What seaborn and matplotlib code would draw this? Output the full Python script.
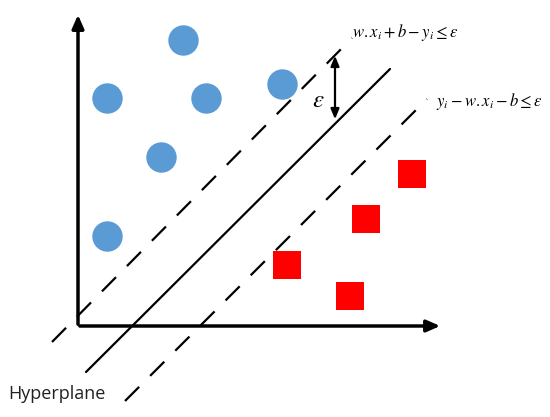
import matplotlib
matplotlib.use("Agg")
import matplotlib.pyplot as plt
import seaborn as sns
import pandas as pd

circle_x = [183, 107, 206, 282, 161, 107]
circle_y = [40, 98, 98, 84, 157, 236]
square_x = [412, 366, 287, 350]
square_y = [174, 219, 265, 296]
# lines: (x_start, y_start, x_end, y_end) in picture coords
solid_line = [86, 372, 390, 69]
upper_dash = [52, 342, 352, 38]
lower_dash = [125, 401, 427, 99]

sns.set_style("white")
plt.rcParams["mathtext.fontset"] = "stix"
fig = plt.figure(figsize=(5.5, 4.17), dpi=100)
ax = fig.add_axes([0, 0, 1, 1])
ax.set_xlim(0, 550)
ax.set_ylim(417, 0)
ax.axis("off")

circ = pd.DataFrame({"x": circle_x, "y": circle_y})
sq = pd.DataFrame({"x": square_x, "y": square_y})
sns.scatterplot(data=circ, x="x", y="y", s=480, color="#5B9BD5", linewidth=0, ax=ax)
sns.scatterplot(data=sq, x="x", y="y", s=420, marker="s", color="#FF0000", linewidth=0, ax=ax)

ax.plot([solid_line[0], solid_line[2]], [solid_line[1], solid_line[3]], color="black", lw=1.6)
for l in (upper_dash, lower_dash):
    ax.plot([l[0], l[2]], [l[1], l[3]], color="black", lw=1.6, dashes=(9, 7))

# axes arrows
ax.annotate("", xy=(78, 12), xytext=(78, 327),
            arrowprops=dict(arrowstyle="-|>,head_length=0.8,head_width=0.35", color="black", lw=2.5))
ax.annotate("", xy=(443, 326), xytext=(77, 326),
            arrowprops=dict(arrowstyle="-|>,head_length=0.8,head_width=0.35", color="black", lw=2.5))
ax.annotate("", xy=(335, 53), xytext=(335, 122),
            arrowprops=dict(arrowstyle="<|-|>,head_length=0.6,head_width=0.25", color="black", lw=1.6))

ax.text(318, 100, r"$\varepsilon$", fontsize=18, ha="center", va="center", color="black")
ax.text(352, 32, r"$w.x_i+b-y_i\leq\varepsilon$", fontsize=12, ha="left", va="center", color="black")
ax.text(436, 101, r"$y_i-w.x_i-b\leq\varepsilon$", fontsize=12, ha="left", va="center", color="black")
ax.text(8, 394, "Hyperplane", fontsize=13, ha="left", va="center", family="Open Sans", color="#222222")

fig.savefig("out.png", dpi=100)
